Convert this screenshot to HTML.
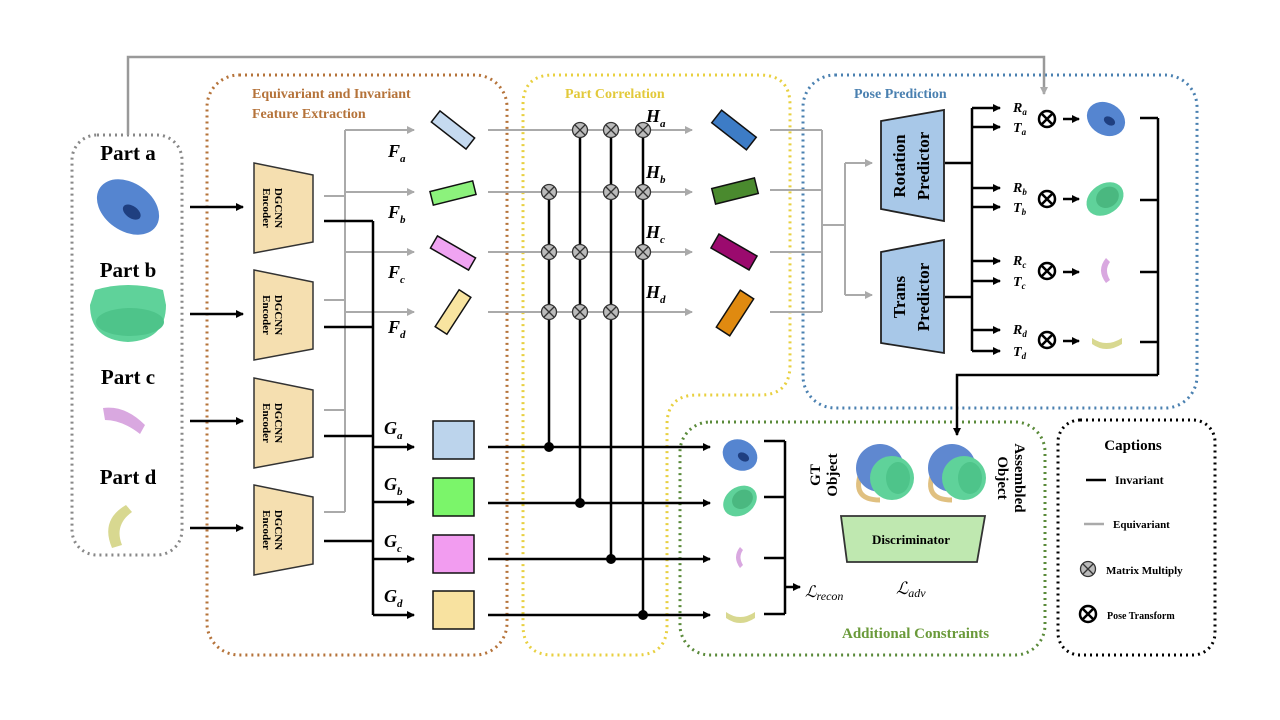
<!DOCTYPE html>
<html><head><meta charset="utf-8"><style>
html,body{margin:0;padding:0;background:#fff;}
svg{display:block;font-family:"Liberation Serif",serif;}
.b{font-weight:bold;}
</style></head><body>
<svg width="1280" height="720" viewBox="0 0 1280 720" xmlns="http://www.w3.org/2000/svg">
<defs>
<marker id="ak" markerWidth="8" markerHeight="8" refX="7" refY="4" orient="auto" markerUnits="userSpaceOnUse"><path d="M0,0 L8,4 L0,8 z" fill="#000"/></marker>
<marker id="ag" markerWidth="8" markerHeight="8" refX="7" refY="4" orient="auto" markerUnits="userSpaceOnUse"><path d="M0,0 L8,4 L0,8 z" fill="#aaa"/></marker>
<g id="mm"><circle r="7.5" fill="#bbb" stroke="#333" stroke-width="1.3"/><path d="M-5,-5 L5,5 M-5,5 L5,-5" stroke="#333" stroke-width="1.3"/></g>
<g id="pt"><circle r="8" fill="#fff" stroke="#000" stroke-width="2.5"/><path d="M-5.5,-5.5 L5.5,5.5 M-5.5,5.5 L5.5,-5.5" stroke="#000" stroke-width="2.5"/></g>
</defs>

<!-- containers -->
<rect x="72" y="135" width="110" height="420" rx="25" fill="none" stroke="#888" stroke-width="3" stroke-dasharray="2 4"/>
<rect x="207" y="75" width="300" height="580" rx="32" fill="none" stroke="#b5733a" stroke-width="3" stroke-dasharray="2 4"/>
<path d="M553,75 L760,75 Q790,75 790,105 L790,365 Q790,395 760,395 L697,395 Q667,395 667,425 L667,625 Q667,655 637,655 L553,655 Q523,655 523,625 L523,105 Q523,75 553,75 z" fill="none" stroke="#e8d040" stroke-width="3" stroke-dasharray="2 4"/>
<rect x="803" y="75" width="394" height="333" rx="32" fill="none" stroke="#4a80b0" stroke-width="3" stroke-dasharray="2 4"/>
<rect x="680" y="422" width="365" height="233" rx="30" fill="none" stroke="#5a8a3a" stroke-width="3" stroke-dasharray="2 4"/>
<rect x="1058" y="420" width="157" height="235" rx="22" fill="none" stroke="#000" stroke-width="3" stroke-dasharray="2 4"/>

<!-- titles -->
<text x="252" y="98" fill="#b5733a" font-size="14" class="b">Equivariant and Invariant</text>
<text x="252" y="118" fill="#b5733a" font-size="14" class="b">Feature Extraction</text>
<text x="565" y="98" fill="#e2c93a" font-size="14" class="b">Part Correlation</text>
<text x="854" y="98" fill="#4a80b0" font-size="14" class="b">Pose Prediction</text>
<text x="842" y="638" fill="#6a9a3a" font-size="15" class="b">Additional Constraints</text>

<!-- top gray line -->
<path d="M128,135 L128,57 L1044,57 L1044,94" fill="none" stroke="#999" stroke-width="2.5" marker-end="url(#ag)"/>

<!-- parts -->
<g class="b" font-size="21" text-anchor="middle">
<text x="128" y="160">Part a</text><text x="128" y="277">Part b</text>
<text x="128" y="384">Part c</text><text x="128" y="484">Part d</text></g>
<g transform="translate(128,207) rotate(35)"><ellipse rx="34" ry="24" fill="#5585d0"/><ellipse cx="6" cy="2" rx="10" ry="6" fill="#1f3f80"/></g>
<g><path d="M90,305 L95,290 Q128,280 163,290 L166,305 Q166,340 128,342 Q90,340 90,305 z" fill="#5fd29a"/><ellipse cx="130" cy="322" rx="34" ry="14" fill="#4ec48a"/></g>
<path d="M103,408 Q125,405 145,425 L140,434 Q122,420 105,420 z" fill="#d9a8e0"/>
<path d="M126,505 Q100,520 112,548 L122,545 Q114,525 132,512 z" fill="#d8d890"/>

<!-- input arrows -->
<g stroke="#000" stroke-width="2.5" marker-end="url(#ak)">
<line x1="190" y1="207" x2="243" y2="207"/><line x1="190" y1="314" x2="243" y2="314"/>
<line x1="190" y1="421" x2="243" y2="421"/><line x1="190" y1="528" x2="243" y2="528"/></g>

<!-- encoders -->
<g fill="#f5dfb0" stroke="#333" stroke-width="1.5">
<path d="M254,163 L313,175 L313,242 L254,253 z"/>
<path d="M254,270 L313,282 L313,349 L254,360 z"/>
<path d="M254,378 L313,390 L313,457 L254,468 z"/>
<path d="M254,485 L313,497 L313,564 L254,575 z"/></g>
<g font-size="11" class="b" text-anchor="middle">
<text transform="translate(275,208) rotate(90)">DGCNN</text><text transform="translate(263,208) rotate(90)">Encoder</text>
<text transform="translate(275,315) rotate(90)">DGCNN</text><text transform="translate(263,315) rotate(90)">Encoder</text>
<text transform="translate(275,423) rotate(90)">DGCNN</text><text transform="translate(263,423) rotate(90)">Encoder</text>
<text transform="translate(275,530) rotate(90)">DGCNN</text><text transform="translate(263,530) rotate(90)">Encoder</text></g>

<!-- equivariant gray -->
<g stroke="#aaa" stroke-width="2" fill="none">
<line x1="324" y1="196" x2="345" y2="196"/><line x1="324" y1="300" x2="345" y2="300"/>
<line x1="324" y1="410" x2="345" y2="410"/><line x1="324" y1="512" x2="345" y2="512"/>
<line x1="345" y1="130" x2="345" y2="512"/>
<g marker-end="url(#ag)"><line x1="345" y1="130" x2="414" y2="130"/><line x1="345" y1="192" x2="414" y2="192"/>
<line x1="345" y1="252" x2="414" y2="252"/><line x1="345" y1="312" x2="414" y2="312"/>
<line x1="488" y1="130" x2="692" y2="130"/><line x1="488" y1="192" x2="692" y2="192"/>
<line x1="488" y1="252" x2="692" y2="252"/><line x1="488" y1="312" x2="692" y2="312"/>
<line x1="845" y1="163" x2="872" y2="163"/><line x1="845" y1="295" x2="872" y2="295"/></g>
<line x1="770" y1="130" x2="822" y2="130"/><line x1="770" y1="190" x2="822" y2="190"/>
<line x1="770" y1="252" x2="822" y2="252"/><line x1="770" y1="312" x2="822" y2="312"/>
<line x1="822" y1="130" x2="822" y2="312"/><line x1="822" y1="225" x2="845" y2="225"/>
<line x1="845" y1="163" x2="845" y2="295"/></g>

<!-- invariant black -->
<g stroke="#000" stroke-width="2.5" fill="none">
<line x1="324" y1="221" x2="373" y2="221"/><line x1="324" y1="327" x2="373" y2="327"/>
<line x1="324" y1="436" x2="373" y2="436"/><line x1="324" y1="541" x2="373" y2="541"/>
<line x1="373" y1="221" x2="373" y2="615"/>
<g marker-end="url(#ak)"><line x1="373" y1="447" x2="414" y2="447"/><line x1="373" y1="502" x2="414" y2="502"/>
<line x1="373" y1="559" x2="414" y2="559"/><line x1="373" y1="615" x2="414" y2="615"/>
<line x1="488" y1="447" x2="710" y2="447"/><line x1="488" y1="503" x2="710" y2="503"/>
<line x1="488" y1="559" x2="710" y2="559"/><line x1="488" y1="615" x2="710" y2="615"/></g>
<line x1="549" y1="192" x2="549" y2="447"/><line x1="580" y1="130" x2="580" y2="503"/>
<line x1="611" y1="130" x2="611" y2="559"/><line x1="643" y1="130" x2="643" y2="615"/></g>
<g fill="#000"><circle cx="549" cy="447" r="5"/><circle cx="580" cy="503" r="5"/><circle cx="611" cy="559" r="5"/><circle cx="643" cy="615" r="5"/></g>
<use href="#mm" x="549" y="192"/><use href="#mm" x="549" y="252"/><use href="#mm" x="549" y="312"/>
<use href="#mm" x="580" y="130"/><use href="#mm" x="580" y="252"/><use href="#mm" x="580" y="312"/>
<use href="#mm" x="611" y="130"/><use href="#mm" x="611" y="192"/><use href="#mm" x="611" y="312"/>
<use href="#mm" x="643" y="130"/><use href="#mm" x="643" y="192"/><use href="#mm" x="643" y="252"/>

<!-- F/G labels -->
<g font-size="18" class="b" font-style="italic">
<text x="388" y="157">F<tspan font-size="11" dy="5">a</tspan></text>
<text x="388" y="218">F<tspan font-size="11" dy="5">b</tspan></text>
<text x="388" y="278">F<tspan font-size="11" dy="5">c</tspan></text>
<text x="388" y="333">F<tspan font-size="11" dy="5">d</tspan></text>
<text x="384" y="434">G<tspan font-size="11" dy="5">a</tspan></text>
<text x="384" y="490">G<tspan font-size="11" dy="5">b</tspan></text>
<text x="384" y="547">G<tspan font-size="11" dy="5">c</tspan></text>
<text x="384" y="602">G<tspan font-size="11" dy="5">d</tspan></text>
<text x="646" y="122">H<tspan font-size="11" dy="5">a</tspan></text>
<text x="646" y="178">H<tspan font-size="11" dy="5">b</tspan></text>
<text x="646" y="238">H<tspan font-size="11" dy="5">c</tspan></text>
<text x="646" y="298">H<tspan font-size="11" dy="5">d</tspan></text></g>

<!-- F boxes -->
<g stroke="#111" stroke-width="1.5">
<rect x="-22" y="-7" width="44" height="14" fill="#c5daf0" transform="translate(453,130) rotate(38)"/>
<rect x="-22" y="-7" width="44" height="14" fill="#8cf27c" transform="translate(453,193) rotate(-14)"/>
<rect x="-22" y="-7" width="44" height="14" fill="#f0a4f2" transform="translate(453,253) rotate(30)"/>
<rect x="-22" y="-7" width="44" height="14" fill="#f8e4a0" transform="translate(453,312) rotate(-57)"/>
<rect x="433" y="421" width="41" height="38" fill="#bcd4ec"/>
<rect x="433" y="478" width="41" height="38" fill="#7bf56a"/>
<rect x="433" y="535" width="41" height="38" fill="#f29cf0"/>
<rect x="433" y="591" width="41" height="38" fill="#f8e2a0"/>
<rect x="-22" y="-8" width="44" height="16" fill="#3d7cc6" transform="translate(734,130) rotate(38)"/>
<rect x="-22" y="-8" width="44" height="16" fill="#4a8a2e" transform="translate(735,191) rotate(-14)"/>
<rect x="-22" y="-8" width="44" height="16" fill="#9b0a6e" transform="translate(734,252) rotate(30)"/>
<rect x="-22" y="-8" width="44" height="16" fill="#e08a10" transform="translate(735,313) rotate(-57)"/></g>

<!-- predictors -->
<g fill="#a8c8e8" stroke="#222" stroke-width="1.8">
<path d="M881,121 L944,110 L944,221 L881,209 z"/>
<path d="M881,252 L944,240 L944,353 L881,343 z"/></g>
<g font-size="17" class="b" text-anchor="middle">
<text transform="translate(905,166) rotate(-90)">Rotation</text><text transform="translate(929,166) rotate(-90)">Predictor</text>
<text transform="translate(905,297) rotate(-90)">Trans</text><text transform="translate(929,297) rotate(-90)">Predictor</text></g>
<g stroke="#000" stroke-width="2.5" fill="none">
<line x1="945" y1="163" x2="972" y2="163"/><line x1="945" y1="297" x2="972" y2="297"/>
<line x1="972" y1="108" x2="972" y2="351"/>
<g marker-end="url(#ak)">
<line x1="972" y1="108" x2="1000" y2="108"/><line x1="972" y1="127" x2="1000" y2="127"/>
<line x1="972" y1="188" x2="1000" y2="188"/><line x1="972" y1="207" x2="1000" y2="207"/>
<line x1="972" y1="261" x2="1000" y2="261"/><line x1="972" y1="281" x2="1000" y2="281"/>
<line x1="972" y1="330" x2="1000" y2="330"/><line x1="972" y1="351" x2="1000" y2="351"/>
<line x1="1063" y1="119" x2="1079" y2="119"/><line x1="1063" y1="199" x2="1079" y2="199"/>
<line x1="1063" y1="272" x2="1079" y2="272"/><line x1="1063" y1="341" x2="1079" y2="341"/></g>
<line x1="1140" y1="118" x2="1158" y2="118"/><line x1="1140" y1="200" x2="1158" y2="200"/>
<line x1="1140" y1="272" x2="1158" y2="272"/><line x1="1140" y1="342" x2="1158" y2="342"/>
<line x1="1158" y1="118" x2="1158" y2="375"/>
<path d="M1158,375 L957,375 L957,435" marker-end="url(#ak)"/></g>
<g font-size="14" class="b" font-style="italic">
<text x="1013" y="112">R<tspan font-size="9" dy="3">a</tspan></text><text x="1013" y="132">T<tspan font-size="9" dy="3">a</tspan></text>
<text x="1013" y="192">R<tspan font-size="9" dy="3">b</tspan></text><text x="1013" y="212">T<tspan font-size="9" dy="3">b</tspan></text>
<text x="1013" y="265">R<tspan font-size="9" dy="3">c</tspan></text><text x="1013" y="286">T<tspan font-size="9" dy="3">c</tspan></text>
<text x="1013" y="334">R<tspan font-size="9" dy="3">d</tspan></text><text x="1013" y="356">T<tspan font-size="9" dy="3">d</tspan></text></g>
<use href="#pt" x="1047" y="119"/><use href="#pt" x="1047" y="199"/><use href="#pt" x="1047" y="271"/><use href="#pt" x="1047" y="340"/>
<!-- output parts -->
<g transform="translate(1106,119) rotate(30)"><ellipse rx="20" ry="16" fill="#5585d0"/><ellipse cx="4" rx="6" ry="4" fill="#1f3f80"/></g>
<g transform="translate(1105,199) rotate(-35)"><ellipse rx="20" ry="15" fill="#5fd29a"/><ellipse cx="3" rx="12" ry="10" fill="#4ab880"/></g>
<path d="M1106,258 Q1096,270 1106,283 L1110,280 Q1104,270 1110,262 z" fill="#d9a8e0"/>
<path d="M1092,338 Q1106,348 1122,338 L1122,344 Q1106,354 1092,344 z" fill="#d8d890"/>
<!-- constraint parts -->
<g transform="translate(740,455) rotate(30)"><ellipse rx="18" ry="15" fill="#5585d0"/><ellipse cx="4" rx="6" ry="4" fill="#1f3f80"/></g>
<g transform="translate(740,501) rotate(-35)"><ellipse rx="18" ry="14" fill="#5fd29a"/><ellipse cx="3" rx="11" ry="9" fill="#4ab880"/></g>
<path d="M740,547 Q732,557 740,568 L743,565 Q738,557 743,550 z" fill="#d9a8e0"/>
<path d="M726,612 Q740,622 755,612 L755,618 Q740,628 726,618 z" fill="#d8d890"/>
<g stroke="#000" stroke-width="2.5" fill="none">
<line x1="764" y1="441" x2="785" y2="441"/><line x1="764" y1="497" x2="785" y2="497"/>
<line x1="764" y1="558" x2="785" y2="558"/><line x1="764" y1="614" x2="785" y2="614"/>
<line x1="785" y1="441" x2="785" y2="614"/>
<line x1="785" y1="587" x2="800" y2="587" marker-end="url(#ak)"/></g>
<text x="805" y="597" font-size="16" font-style="italic">ℒ<tspan font-size="12" dy="3">recon</tspan></text>
<text x="896" y="594" font-size="17" font-style="italic">ℒ<tspan font-size="12" dy="3">adv</tspan></text>
<!-- mugs -->
<g>
<path d="M862,470 Q850,500 880,500" fill="none" stroke="#e0c080" stroke-width="5"/>
<ellipse cx="880" cy="468" rx="24" ry="24" fill="#5f88d0"/>
<ellipse cx="892" cy="478" rx="22" ry="22" fill="#5fd29a"/>
<ellipse cx="898" cy="478" rx="12" ry="16" fill="#4ec48a"/>
<path d="M934,470 Q922,500 952,500" fill="none" stroke="#e0c080" stroke-width="5"/>
<ellipse cx="952" cy="468" rx="24" ry="24" fill="#5f88d0"/>
<ellipse cx="964" cy="478" rx="22" ry="22" fill="#5fd29a"/>
<ellipse cx="970" cy="478" rx="12" ry="16" fill="#4ec48a"/></g>
<g font-size="15" class="b" text-anchor="middle">
<text transform="translate(820,475) rotate(-90)">GT</text><text transform="translate(837,475) rotate(-90)">Object</text>
<text transform="translate(1015,478) rotate(90)">Assembled</text><text transform="translate(998,478) rotate(90)">Object</text></g>
<path d="M841,516 L985,516 L977,562 L847,562 z" fill="#bfe8b0" stroke="#333" stroke-width="1.8"/>
<text x="911" y="544" font-size="13" class="b" text-anchor="middle">Discriminator</text>

<!-- captions -->
<text x="1133" y="450" font-size="15" class="b" text-anchor="middle">Captions</text>
<line x1="1086" y1="480" x2="1106" y2="480" stroke="#000" stroke-width="2.5"/>
<text x="1115" y="484" font-size="12" class="b">Invariant</text>
<line x1="1084" y1="524" x2="1104" y2="524" stroke="#aaa" stroke-width="2.5"/>
<text x="1113" y="528" font-size="11" class="b">Equivariant</text>
<use href="#mm" x="1088" y="569"/>
<text x="1106" y="574" font-size="11" class="b">Matrix Multiply</text>
<use href="#pt" x="1088" y="614"/>
<text x="1107" y="619" font-size="10" class="b">Pose Transform</text>
</svg>
</body></html>
